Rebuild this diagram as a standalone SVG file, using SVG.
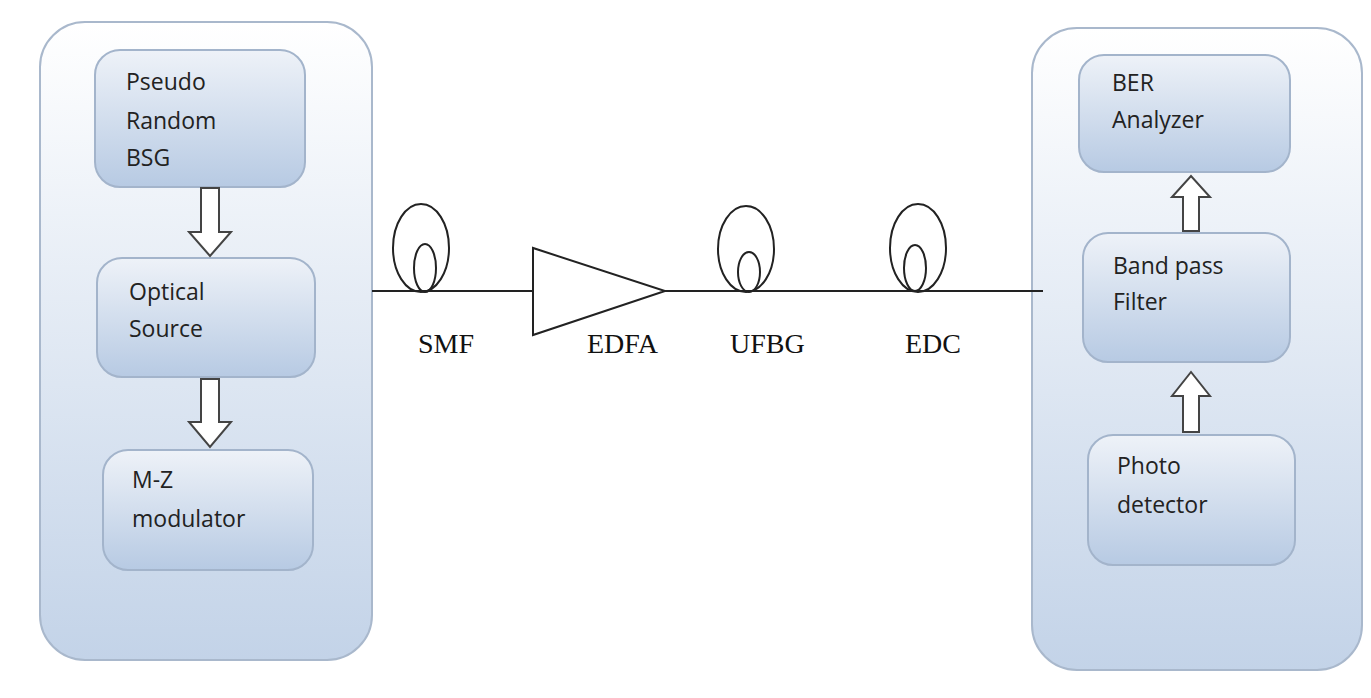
<svg xmlns="http://www.w3.org/2000/svg" width="1371" height="698" viewBox="0 0 1371 698">
<defs>
<linearGradient id="cg" x1="0" y1="0" x2="0" y2="1"><stop offset="0" stop-color="#ffffff"/><stop offset="1" stop-color="#c3d3e8"/></linearGradient>
<linearGradient id="bg" x1="0" y1="0" x2="0" y2="1"><stop offset="0" stop-color="#eef2f8"/><stop offset="1" stop-color="#b7cae3"/></linearGradient>
</defs>
<style>
.cont{fill:url(#cg);stroke:#a9b8cc;stroke-width:2}
.box{fill:url(#bg);stroke:#a3b4cb;stroke-width:2}
.t{font-family:"Open Sans",sans-serif;font-size:23px;fill:#222}
.l{font-family:"Liberation Serif",serif;font-size:28px;fill:#111}
.ln{fill:none;stroke:#222;stroke-width:2}
.ar{fill:#fff;stroke:#444;stroke-width:2}
</style>
<rect width="1371" height="698" fill="#fff"/>
<g id="tx"><rect class="cont" x="40" y="22" width="332" height="638" rx="45"/></g>
<g id="rx"><rect class="cont" x="1032" y="28" width="330" height="642" rx="45"/></g>
<g id="prbs"><rect class="box" x="95" y="50" width="210" height="137" rx="25"/><text class="t" x="126" y="90">Pseudo</text><text class="t" x="126" y="129">Random</text><text class="t" x="126" y="166">BSG</text></g>
<g id="src"><rect class="box" x="97" y="258" width="218" height="119" rx="25"/><text class="t" x="129" y="300">Optical</text><text class="t" x="129" y="337">Source</text></g>
<g id="mz"><rect class="box" x="103" y="450" width="210" height="120" rx="25"/><text class="t" x="132" y="488">M-Z</text><text class="t" x="132" y="527">modulator</text></g>
<g id="ber"><rect class="box" x="1079" y="55" width="211" height="117" rx="25"/><text class="t" x="1112" y="91">BER</text><text class="t" x="1112" y="128">Analyzer</text></g>
<g id="bpf"><rect class="box" x="1083" y="233" width="207" height="129" rx="25"/><text class="t" x="1113" y="274">Band pass</text><text class="t" x="1113" y="310">Filter</text></g>
<g id="pd"><rect class="box" x="1088" y="435" width="207" height="130" rx="25"/><text class="t" x="1117" y="474">Photo</text><text class="t" x="1117" y="513">detector</text></g>
<g id="smf"><ellipse class="ln" cx="421" cy="248" rx="28" ry="44"/><ellipse class="ln" cx="425" cy="268" rx="11" ry="24"/><text class="l" x="418" y="353">SMF</text></g>
<g id="edfa"><polygon class="ln" points="533,248 533,335 665,291"/><text class="l" x="587" y="353">EDFA</text></g>
<g id="ufbg"><ellipse class="ln" cx="746" cy="249" rx="28" ry="43"/><ellipse class="ln" cx="749" cy="272" rx="11" ry="20"/><text class="l" x="730" y="353">UFBG</text></g>
<g id="edc"><ellipse class="ln" cx="918" cy="248" rx="28" ry="44"/><ellipse class="ln" cx="915" cy="268" rx="11" ry="23"/><text class="l" x="905" y="353">EDC</text></g>
<g id="connectors">
<path class="ln" d="M372 291 H533 M665 291 H1043"/>
<polygon class="ar" points="201,188 219,188 219,232 231,232 210,256 189,232 201,232"/>
<polygon class="ar" points="201,379 219,379 219,422 231,422 210,447 189,422 201,422"/>
<polygon class="ar" points="1183,231 1199,231 1199,197 1210,197 1191,176 1172,197 1183,197"/>
<polygon class="ar" points="1183,432 1199,432 1199,396 1210,396 1191,372 1172,396 1183,396"/>
</g>
</svg>
